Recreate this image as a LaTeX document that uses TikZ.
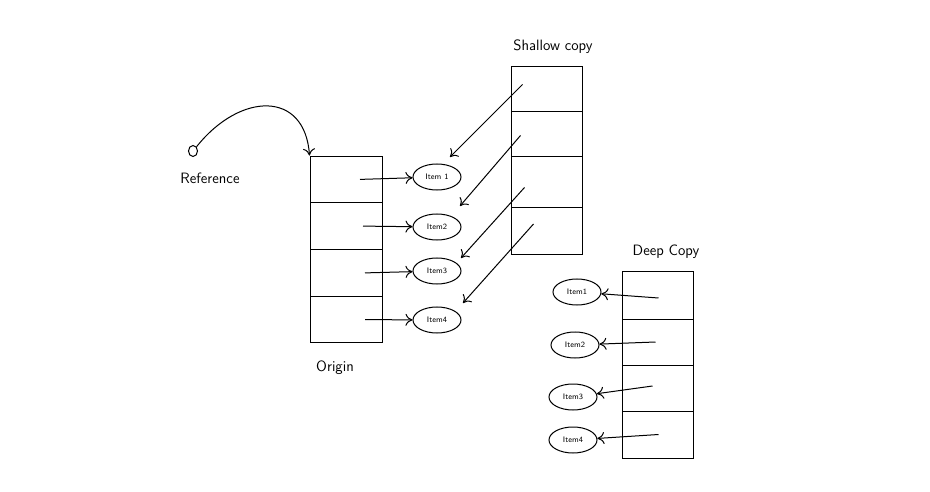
\documentclass[tikz,border=0pt]{standalone}
\usepackage{tikz}
\usetikzlibrary{arrows.meta,shapes.geometric}

\begin{document}
\begin{tikzpicture}[x=1pt,y=-1pt,line width=1pt,
  cell/.style={draw,rectangle,inner sep=0pt,minimum width=72pt},
  item/.style={draw,ellipse,inner sep=0pt,minimum width=48pt,minimum height=26pt,font=\sffamily\footnotesize},
  lbl/.style={font=\sffamily\fontsize{15}{17}\selectfont},
  ptr/.style={-{To[length=7pt,width=12pt]}}]
\useasboundingbox (0,0) rectangle (930,492);
% reference
\node[draw,ellipse,minimum width=9pt,minimum height=11pt,inner sep=0pt] (ref) at (193,151) {};
\node[lbl] (reflbl) at (210,178) {Reference};
% origin
\node[cell,minimum height=46.75pt] (o1) at (346,179.4) {};
\node[cell,minimum height=46.75pt] (o2) at (346,226.1) {};
\node[cell,minimum height=46.75pt] (o3) at (346,272.9) {};
\node[cell,minimum height=46.75pt] (o4) at (346,319.6) {};
\node[lbl] (orglbl) at (335,368) {Origin};
\node[item] (a1) at (437,177) {Item 1};
\node[item] (a2) at (437,227) {Item2};
\node[item] (a3) at (437,271) {Item3};
\node[item] (a4) at (437,320) {Item4};
% shallow copy
\node[cell,minimum height=45pt,minimum width=71pt] (s1) at (546.5,89.5) {};
\node[cell,minimum height=45pt,minimum width=71pt] (s2) at (546.5,134.5) {};
\node[cell,minimum height=51pt,minimum width=71pt] (s3) at (546.5,182.5) {};
\node[cell,minimum height=46pt,minimum width=71pt] (s4) at (546.5,231) {};
\node[lbl] (shlbl) at (553,47) {Shallow copy};
% deep copy
\node[cell,minimum height=48pt,minimum width=71pt] (d1) at (657.5,295) {};
\node[cell,minimum height=46pt,minimum width=71pt] (d2) at (657.5,342) {};
\node[cell,minimum height=46pt,minimum width=71pt] (d3) at (657.5,388) {};
\node[cell,minimum height=47pt,minimum width=71pt] (d4) at (657.5,434.5) {};
\node[lbl] (dplbl) at (666,252) {Deep Copy};
\node[item] (b1) at (577,292) {Item1};
\node[item] (b2) at (575,345) {Item2};
\node[item] (b3) at (573,397) {Item3};
\node[item] (b4) at (573,440) {Item4};

\draw[ptr] (ref.north east) .. controls (240,92) and (305,90) .. (o1.north west);

\draw[ptr] ([xshift=14pt]o1.center) -- (a1);
\draw[ptr] ([xshift=17pt]o2.center) -- (a2);
\draw[ptr] ([xshift=19pt]o3.center) -- (a3);
\draw[ptr] ([xshift=19pt]o4.center) -- (a4);

\draw[ptr] ([xshift=-24pt,yshift=5pt]s1.center) -- (450,157);
\draw[ptr] ([xshift=-26pt,yshift=-1pt]s2.center) -- (460,206);
\draw[ptr] ([xshift=-22pt,yshift=-5pt]s3.center) -- (461,258);
\draw[ptr] ([xshift=-13pt,yshift=7pt]s4.center) -- (463,303);

\draw[ptr] ([xshift=1pt,yshift=-3pt]d1.center) -- (b1);
\draw[ptr] ([xshift=-2pt]d2.center) -- (b2);
\draw[ptr] ([xshift=-5pt,yshift=2pt]d3.center) -- (b3);
\draw[ptr] ([xshift=1pt]d4.center) -- (b4);
\end{tikzpicture}
\end{document}
